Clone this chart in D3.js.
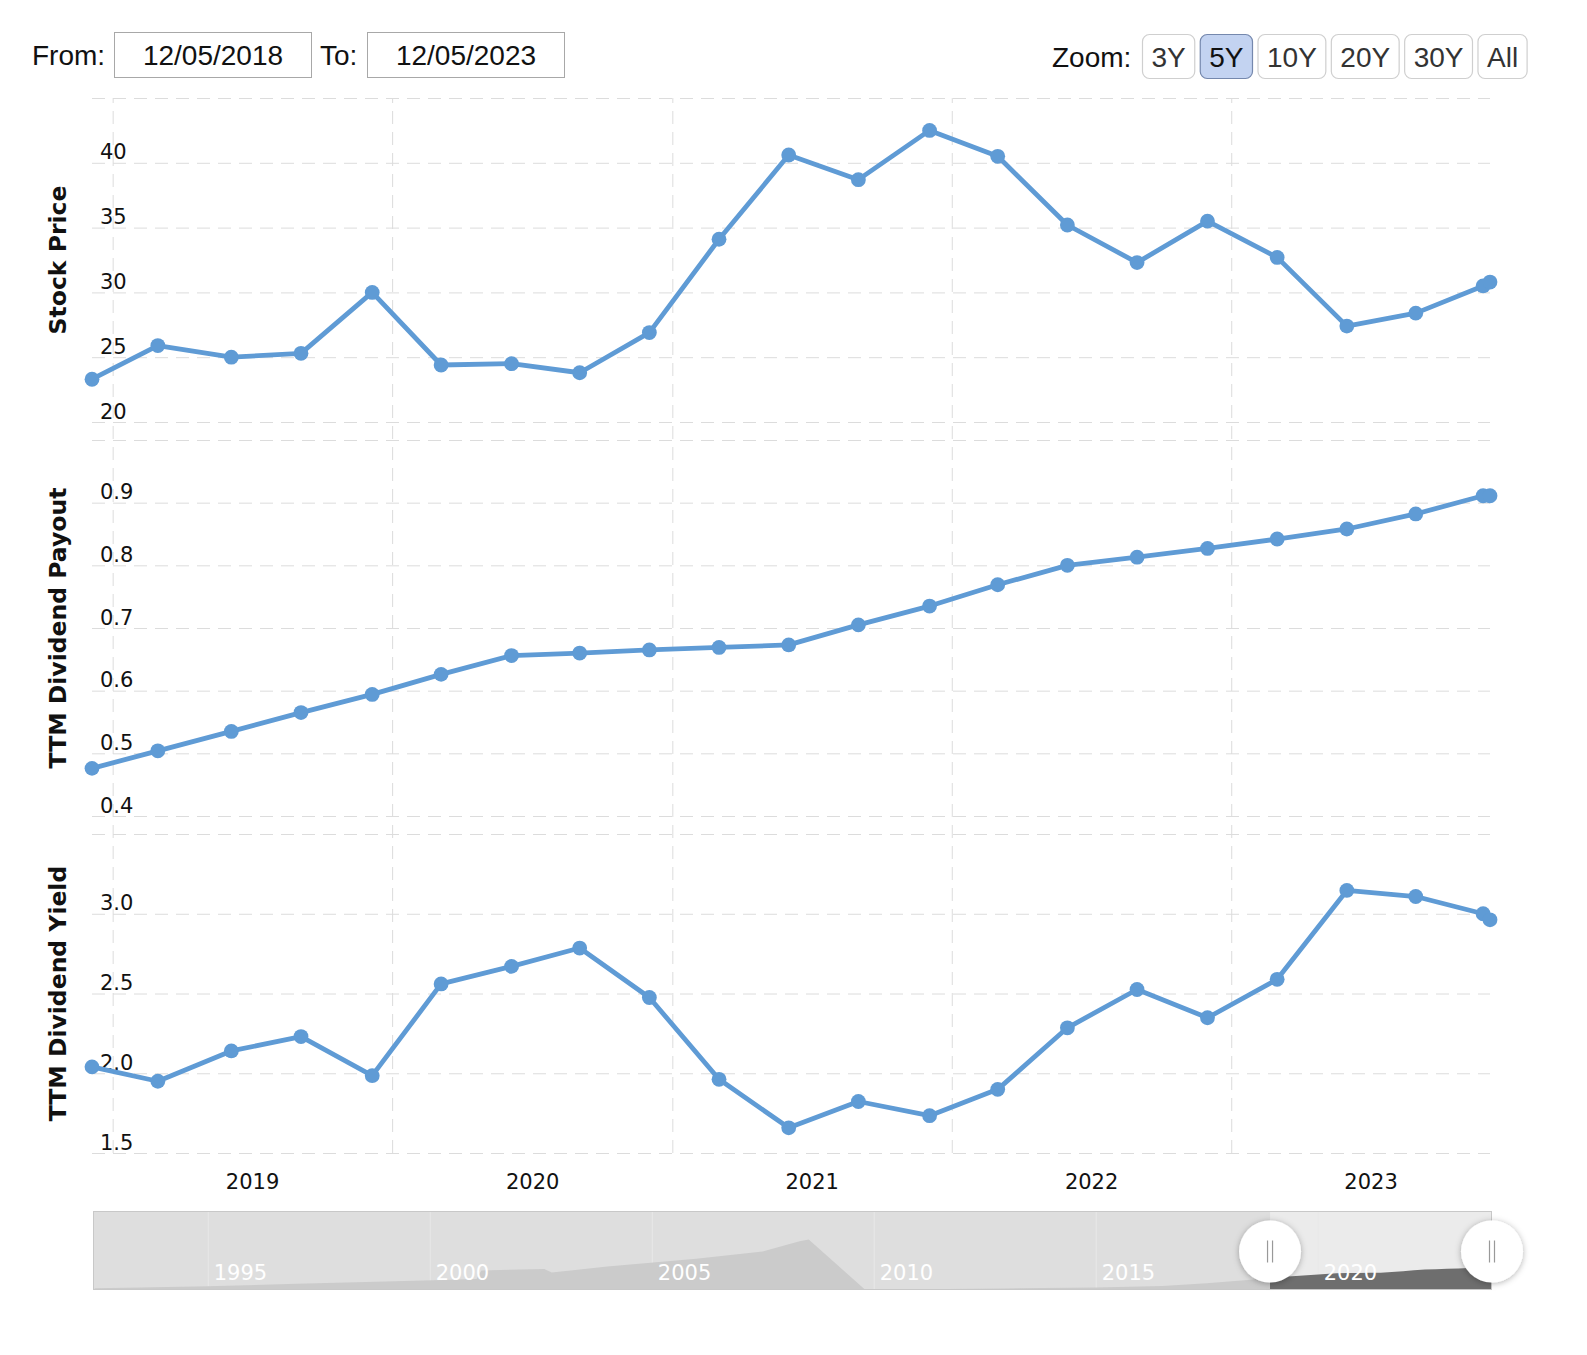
<!DOCTYPE html>
<html><head><meta charset="utf-8">
<script src="https://cdn.jsdelivr.net/npm/d3@7"></script>
<style>body{margin:0;background:#fff;overflow:hidden}</style>
</head><body><svg id="c" width="1587" height="1355"></svg>
<script>
// ---------------- data ----------------
const dates = ["2018-12-05","2019-03-01","2019-06-05","2019-09-04","2019-12-06","2020-03-05","2020-06-05","2020-09-02","2020-12-02","2021-03-03","2021-06-02","2021-09-01","2021-12-03","2022-03-02","2022-06-01","2022-08-31","2022-12-01","2023-03-02","2023-06-01","2023-08-30","2023-11-26","2023-12-05"];
const stockPrice = [23.3,25.9,25.0,25.3,30.0,24.4,24.5,23.8,26.9,34.1,40.6,38.7,42.5,40.5,35.2,32.3,35.5,32.7,27.4,28.4,30.5,30.8];
const ttmPayout = [0.476,0.504,0.535,0.565,0.594,0.626,0.656,0.660,0.665,0.669,0.673,0.705,0.735,0.769,0.800,0.813,0.827,0.842,0.858,0.882,0.911,0.911];
const ttmYield = [2.04,1.95,2.14,2.23,1.985,2.56,2.67,2.785,2.475,1.962,1.658,1.823,1.734,1.899,2.285,2.525,2.348,2.589,3.146,3.108,3.00,2.962];

const priceTicks = [20,25,30,35,40,45];
const payoutTicks = [0.4,0.5,0.6,0.7,0.8,0.9,1.0];
const yieldTicks = [1.5,2.0,2.5,3.0,3.5];
const yearLabels = [2019,2020,2021,2022,2023];
const rangeFrom = "12/05/2018", rangeTo = "12/05/2023";
const zoomButtons = ["3Y","5Y","10Y","20Y","30Y","All"];
const selectedButton = "5Y";

// navigator history (earlier years), then the payout series above
const navHistDates = ["1992-06-15","1993-07-01","1995-01-01","1997-01-01","1999-01-01","2000-07-01","2001-01-20","2001-03-01","2002-08-01","2002-10-01","2004-01-01","2006-01-01","2007-07-01","2008-05-01","2008-07-15","2009-10-20","2011-01-01","2013-01-01","2015-01-01","2016-07-01","2017-07-01","2018-07-01"];
const navHistValues = [0.07,0.10,0.15,0.24,0.33,0.40,0.43,0.76,0.82,0.68,0.92,1.22,1.50,1.90,1.97,0.02,0.03,0.06,0.10,0.16,0.26,0.40];
const navYearTicks = [1995,2000,2005,2010,2015,2020];

// ---------------- setup ----------------
const parse = d3.timeParse("%Y-%m-%d");
const svg = d3.select("#c");
const blue = "#5f9bd5";
const gridCol = "#dcdcdc";
const dash = "13,8";
const tickFont = "DejaVu Sans, Verdana, sans-serif";
const headFont = "Liberation Sans, Arial, sans-serif";

const defs = svg.append("defs");
const f = defs.append("filter").attr("id","sh").attr("x","-50%").attr("y","-50%").attr("width","200%").attr("height","200%");
f.append("feDropShadow").attr("dx",0).attr("dy",1).attr("stdDeviation",3).attr("flood-color","#000").attr("flood-opacity",0.3);

// ---------------- header ----------------
const hs = 28;
svg.append("text").attr("x",32).attr("y",65).attr("font-family",headFont).attr("font-size",hs).attr("fill","#111").text("From:");
svg.append("rect").attr("x",114.5).attr("y",32.5).attr("width",197).attr("height",45).attr("fill","#fff").attr("stroke","#a8a8a8");
svg.append("text").attr("x",213).attr("y",65).attr("text-anchor","middle").attr("font-family",headFont).attr("font-size",hs).attr("fill","#111").text(rangeFrom);
svg.append("text").attr("x",320).attr("y",65).attr("font-family",headFont).attr("font-size",hs).attr("fill","#111").text("To:");
svg.append("rect").attr("x",367.5).attr("y",32.5).attr("width",197).attr("height",45).attr("fill","#fff").attr("stroke","#a8a8a8");
svg.append("text").attr("x",466).attr("y",65).attr("text-anchor","middle").attr("font-family",headFont).attr("font-size",hs).attr("fill","#111").text(rangeTo);

svg.append("text").attr("x",1052).attr("y",67).attr("font-family",headFont).attr("font-size",hs).attr("fill","#111").text("Zoom:");
let bx = 1142;
zoomButtons.forEach(lbl => {
  const g = svg.append("g");
  const sel = lbl === selectedButton;
  const r = g.append("rect").attr("y",34.5).attr("height",44).attr("rx",7)
    .attr("fill", sel ? "#c3d3f1" : "#fff").attr("stroke", sel ? "#7588ad" : "#cfcfcf").attr("stroke-width",1.2);
  const t = g.append("text").attr("y",67).attr("text-anchor","middle").attr("font-family",headFont).attr("font-size",hs)
    .attr("fill", sel ? "#111" : "#333").text(lbl);
  const w = t.node().getComputedTextLength() + 18;
  r.attr("x", bx + 0.5).attr("width", w);
  t.attr("x", bx + 0.5 + w/2);
  bx += w + 5.5;
});

// ---------------- main chart ----------------
const plotL = 92, plotR = 1490, plotT = 98, plotB = 1153;
const x = d3.scaleTime().domain([parse("2018-12-05"), parse("2023-12-05")]).range([plotL, plotR]);

// vertical grid lines at year starts
const yearStarts = yearLabels.map(y => new Date(y,0,1));
const xg = svg.append("g").attr("transform",`translate(0,${plotB})`)
  .call(d3.axisBottom(x).tickValues(yearStarts).tickSize(-(plotB-plotT)).tickFormat(""));
xg.select(".domain").remove();
xg.selectAll("line").attr("stroke",gridCol).attr("stroke-dasharray",dash);

// year labels at mid-year
const xl = svg.append("g").attr("transform",`translate(0,${plotB})`)
  .call(d3.axisBottom(x).tickValues(yearLabels.map(y => new Date(y,6,2))).tickSize(0).tickFormat(d3.timeFormat("%Y")));
xl.select(".domain").remove();
xl.selectAll("text").attr("font-family",tickFont).attr("font-size",21).attr("fill","#111").attr("dy",0).attr("y",36);

const panels = [
  {title:"Stock Price", vals:stockPrice, ticks:priceTicks, dom:[20,45], range:[422,98], fmt:d3.format("d")},
  {title:"TTM Dividend Payout", vals:ttmPayout, ticks:payoutTicks, dom:[0.4,1.0], range:[816,440], fmt:d3.format(".1f")},
  {title:"TTM Dividend Yield", vals:ttmYield, ticks:yieldTicks, dom:[1.5,3.5], range:[1153,834], fmt:d3.format(".1f")}
];

panels.forEach(p => {
  const y = d3.scaleLinear().domain(p.dom).range(p.range);
  const top = p.ticks[p.ticks.length-1];
  const ya = svg.append("g").attr("transform",`translate(${plotL},0)`)
    .call(d3.axisLeft(y).tickValues(p.ticks).tickSize(-(plotR-plotL)).tickFormat(d => d === top ? "" : p.fmt(d)));
  ya.select(".domain").remove();
  ya.selectAll("line").attr("stroke",gridCol).attr("stroke-dasharray",dash);
  ya.selectAll("text").attr("font-family",tickFont).attr("font-size",21).attr("fill","#111")
    .attr("text-anchor","start").attr("x",8).attr("dy",-4);

  const data = dates.map((d,i) => ({date:parse(d), v:p.vals[i]}));
  svg.append("path").datum(data).attr("fill","none").attr("stroke",blue).attr("stroke-width",4.8)
    .attr("stroke-linejoin","round").attr("stroke-linecap","round")
    .attr("d", d3.line().x(d => x(d.date)).y(d => y(d.v)));
  svg.append("g").selectAll("circle").data(data).join("circle")
    .attr("cx", d => x(d.date)).attr("cy", d => y(d.v)).attr("r",7.4).attr("fill",blue);

  const cy = (p.range[0] + p.range[1]) / 2;
  svg.append("text").attr("transform",`translate(66,${cy}) rotate(-90)`).attr("text-anchor","middle")
    .attr("font-family",tickFont).attr("font-weight","bold").attr("font-size",23.5).attr("fill","#111").text(p.title);
});

// ---------------- navigator ----------------
const nL = 93, nR = 1492, nT = 1211, nB = 1290;
const nx = d3.scaleTime().domain([parse("1992-06-01"), parse("2023-12-05")]).range([nL, nR]);
const ny = d3.scaleLinear().domain([0, 3.08]).range([nB, nT]);
const navData = navHistDates.map((d,i) => ({date:parse(d), v:navHistValues[i]}))
  .concat(dates.map((d,i) => ({date:parse(d), v:ttmPayout[i]})));
const selL = nx(parse("2018-12-05")), selR = nx(parse("2023-12-05"));

svg.append("rect").attr("x",nL).attr("y",nT).attr("width",nR-nL).attr("height",nB-nT).attr("fill","#dedede");
svg.append("rect").attr("x",selL).attr("y",nT).attr("width",selR-selL).attr("height",nB-nT).attr("fill","#ebebeb");

const ng = svg.append("g").attr("transform",`translate(0,${nB})`)
  .call(d3.axisBottom(nx).tickValues(navYearTicks.map(y => new Date(y,0,1))).tickSize(-(nB-nT)).tickFormat(""));
ng.select(".domain").remove();
ng.selectAll("line").attr("stroke","#e8e8e8").attr("stroke-width",1);

defs.append("clipPath").attr("id","clipL").append("rect").attr("x",nL).attr("y",nT).attr("width",selL-nL).attr("height",nB-nT);
defs.append("clipPath").attr("id","clipS").append("rect").attr("x",selL).attr("y",nT).attr("width",selR-selL).attr("height",nB-nT);
const area = d3.area().x(d => nx(d.date)).y0(nB).y1(d => ny(d.v));
svg.append("path").datum(navData).attr("clip-path","url(#clipL)").attr("fill","#cbcbcb").attr("d",area);
svg.append("path").datum(navData).attr("clip-path","url(#clipS)").attr("fill","#6e6e6e").attr("d",area);

svg.append("g").selectAll("text").data(navYearTicks).join("text")
  .attr("x", d => nx(new Date(d,0,1)) + 6).attr("y",1280)
  .attr("font-family",tickFont).attr("font-size",21).attr("fill","#fff").text(d => d);

svg.append("rect").attr("x",nL+0.5).attr("y",nT+0.5).attr("width",nR-nL-1).attr("height",nB-nT-1)
  .attr("fill","none").attr("stroke","#c8c8c8");

[selL, selR].forEach(hx => {
  const cy = (nT + nB) / 2 + 1;
  svg.append("circle").attr("cx",hx).attr("cy",cy).attr("r",31).attr("fill","#fff").attr("filter","url(#sh)");
  [-2.5, 2.5].forEach(o => svg.append("line").attr("x1",hx+o).attr("x2",hx+o).attr("y1",cy-11).attr("y2",cy+11)
    .attr("stroke","#999").attr("stroke-width",1.2));
});
</script>
</body></html>
